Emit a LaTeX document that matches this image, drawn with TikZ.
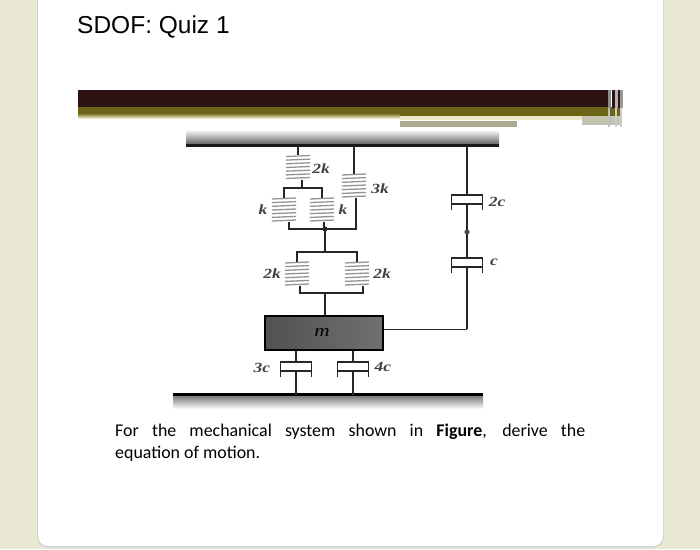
\documentclass[tikz,border=0pt]{standalone}
\usepackage{fontspec}
\setmainfont{Carlito}
\newfontfamily\titlefont{Liberation Sans}
\newfontfamily\labelfont[FakeStretch=1.25]{Liberation Serif}
\definecolor{pagebg}{HTML}{E8E8D3}
\definecolor{bardark}{HTML}{2C1311}
\definecolor{barolive}{HTML}{6B6415}
\definecolor{barcream}{HTML}{ECE6C4}
\definecolor{bargrey}{HTML}{ABAB90}
\tikzset{
  lbl/.style={font=\labelfont\bfseries\itshape\fontsize{14}{14}\selectfont, inner sep=0pt, black!75},
  link/.style={line width=1.4pt, black!85},
  springbox/.style={minimum width=24pt, minimum height=24pt, inner sep=0pt},
  springline/.style={line width=1.3pt, black!42},
  dashbox/.style={minimum width=31pt, minimum height=15pt, inner sep=0pt},
}
\begin{document}
\begin{tikzpicture}[x=1pt,y=-1pt]
\useasboundingbox (0,0) rectangle (700,549);
\fill[pagebg] (0,0) rectangle (700,549);
\fill[black!18,rounded corners=11pt] (37,-20) rectangle (664,547.5);
\fill[white,rounded corners=10pt] (38,-20) rectangle (663,546);

\node[anchor=base west,inner sep=0pt,font=\titlefont\fontsize{24.5}{25}\selectfont] (title) at (77,33) {SDOF: Quiz 1};

% title bar
\fill[bargrey] (400,121) rectangle (517,127);
\fill[bargrey!70] (582,116) rectangle (622,125);
\fill[barcream] (400,116) rectangle (582,120);
\shade[top color=barolive,bottom color=barcream] (78,113) rectangle (400,118);
\fill[barolive] (78,107) rectangle (400,113);
\fill[barolive] (400,107) rectangle (622,116);
\fill[bardark] (78,90) rectangle (608,107);
\foreach \x/\c in {608/black!45,612/bardark,615/black!30,618/bardark,620/black!40}
    \fill[\c] (\x,90) rectangle (\x+2.5,108);
\foreach \x/\c in {608/black!25,615/black!20,620/black!20}
    \fill[\c] (\x,108) rectangle (\x+2,127);

% walls
\node[minimum width=313pt,minimum height=17pt,inner sep=0pt,top color=white,bottom color=black!70] (topwall) at (342.5,138) {};
\draw[line width=3pt,black!90] (topwall.south west) ++(0,-1) -- ++(313,0);
\node[minimum width=310pt,minimum height=14pt,inner sep=0pt,top color=black!55,bottom color=white] (botwall) at (328,402) {};
\draw[line width=3pt,black] (173,394) -- (483,394);

\node[draw=black,line width=1.2pt,left color=black!68,right color=black!56,minimum width=118pt,minimum height=34pt,inner sep=0pt] (mass) at (324,333) {};
\node[lbl,font=\labelfont\itshape\fontsize{17}{17}\selectfont,black] (mlabel) at (322,332) {m};

\foreach \n/\x/\y in {sa/298/167.5, sb/284/210, sc/322/210, sd/354/186, se/297/274, sf/357/274}{
    \node[springbox] (\n) at (\x,\y) {};
    \foreach \t in {-11,-7.4,-3.7,0,3.7,7.4,11}
        \draw[springline] ([yshift=\t pt]\n.west) -- ([yshift=\t pt+1pt]\n.east);
}

\foreach \n/\x/\y in {da/467/202.5, db/467/265.5, dc/296/369.5, dd/353/369.5}{
    \node[dashbox] (\n) at (\x,\y) {};
    \draw[link] (\n.south west) |- (\n.north east) -- (\n.south east);
    \coordinate (\n-p) at ([yshift=-1.5pt]\n.center);
    \draw[link] ([xshift=1pt]\n-p -| \n.west) -- ([xshift=-1pt]\n-p -| \n.east);
}

\coordinate (ja) at (302,188);
\coordinate (jb) at (325,229);
\coordinate (jc) at (325,252);
\coordinate (jd) at (325,293);
\coordinate (dotr) at (467,232);
\coordinate (jm) at (467,329);

\foreach \i/\j in {topwall.south -| sa.north/sa.north,%
            topwall.south -| sd.north/sd.north,%
            topwall.south -| da.north/da.north,%
            jb/jc, jd/mass.north -| jd,%
            da-p/dotr, dotr/db.north, db-p/jm,%
            mass.south -| dc.center/dc.north, dc-p/botwall.north -| dc.center,%
            mass.south -| dd.center/dd.north, dd-p/botwall.north -| dd.center%
            }
    \draw[link] (\i) -- (\j);

\draw[link] ([xshift=4pt]sa.south) -- (ja);
\draw[link] (sb.north) |- (sc.north |- ja) -- (sc.north);
\draw[link] ([xshift=5pt]sb.south) |- (jb);
\draw[link] ([xshift=2pt]sc.south) |- (jb);
\draw[link] ([xshift=2pt]sd.south) |- (jb);
\draw[link] (se.north) |- (jc) -| (sf.north);
\draw[link] ([xshift=3pt]se.south) |- (jd) -| ([xshift=6pt]sf.south);
\draw[link,line width=.9pt] (mass.east |- jm) -- (jm);

\fill[black!85] (jb) circle (2.6pt);
\fill[black!70] (dotr) circle (2.6pt);

\foreach \n/\x/\y/\t in {la/321/169/2k, lb/380/189/3k, lc/263/210/k, ld/343/210/k,%
            le/272/274/2k, lf/382/274/2k, lg/497/202/2c, lh/494/262/c,%
            li/262/368/3c, lj/383/367/4c%
            }
    \node[lbl] (\n) at (\x,\y) {\t};

\node[anchor=north west,inner sep=0pt,text width=470pt,align=justify,font=\fontsize{17.9}{21.5}\selectfont] (quiz) at (115,424)
    {For the mechanical system shown in \textbf{Figure}, derive the\linebreak equation of motion.};
\end{tikzpicture}
\end{document}
